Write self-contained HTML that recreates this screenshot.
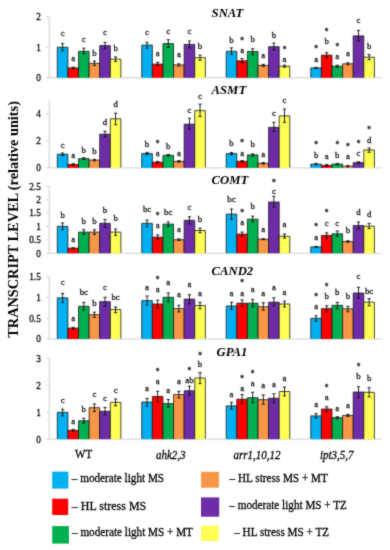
<!DOCTYPE html>
<html><head><meta charset="utf-8"><style>
html,body{margin:0;padding:0;background:#fff;}
body{width:390px;height:550px;overflow:hidden;font-family:"Liberation Serif",serif;}
svg{display:block;}
#w{width:390px;height:550px;will-change:transform;}
</style></head><body><div id="w">
<svg width="390" height="550" viewBox="0 0 390 550">
<defs><filter id="bl" x="0" y="0" width="390" height="550" filterUnits="userSpaceOnUse" color-interpolation-filters="sRGB"><feConvolveMatrix order="3" kernelMatrix="1 2 1 2 16 2 1 2 1" edgeMode="duplicate" preserveAlpha="true"/></filter></defs>
<g filter="url(#bl)">
<rect width="390" height="550" fill="#fff"/>
<g stroke="#D0D0D0" stroke-width="1" fill="none">
<line x1="49.2" y1="16.8" x2="49.2" y2="77.8"/>
<line x1="48.7" y1="77.8" x2="382" y2="77.8"/>
<line x1="46.2" y1="77.8" x2="49.2" y2="77.8"/>
<line x1="46.2" y1="47.3" x2="49.2" y2="47.3"/>
<line x1="46.2" y1="16.8" x2="49.2" y2="16.8"/>
</g>
<text transform="translate(40.80,81.10) scale(1,1.15)" font-family="Liberation Serif" font-size="9.3" fill="#111" text-anchor="end" stroke="#111" stroke-width="0.3">0</text>
<text transform="translate(40.80,50.60) scale(1,1.15)" font-family="Liberation Serif" font-size="9.3" fill="#111" text-anchor="end" stroke="#111" stroke-width="0.3">1</text>
<text transform="translate(40.80,20.10) scale(1,1.15)" font-family="Liberation Serif" font-size="9.3" fill="#111" text-anchor="end" stroke="#111" stroke-width="0.3">2</text>
<text x="211.60" y="17.40" font-family="Liberation Serif" font-size="12.7" fill="#000" font-weight="bold" font-style="italic">SNAT</text>
<rect x="57.30" y="47.20" width="10.60" height="30.60" fill="#00B0F0"/>
<path d="M57.30 77.40V47.20H67.90V77.40" fill="none" stroke="#1a1a1a" stroke-width="0.8"/>
<path d="M62.60 43.60V50.80M61.00 43.60H64.20M61.00 50.80H64.20" stroke="#111" stroke-width="0.9" fill="none"/>
<text x="62.60" y="35.80" font-family="Liberation Serif" font-size="8.8" fill="#111" text-anchor="middle" stroke="#111" stroke-width="0.28">c</text>
<rect x="67.90" y="67.90" width="10.60" height="9.90" fill="#FF0000"/>
<path d="M67.90 77.40V67.90H78.50V77.40" fill="none" stroke="#1a1a1a" stroke-width="0.8"/>
<path d="M73.20 67.10V68.70M71.60 67.10H74.80M71.60 68.70H74.80" stroke="#111" stroke-width="0.9" fill="none"/>
<text x="73.20" y="60.50" font-family="Liberation Serif" font-size="8.8" fill="#111" text-anchor="middle" stroke="#111" stroke-width="0.28">a</text>
<rect x="78.50" y="51.30" width="10.60" height="26.50" fill="#00B050"/>
<path d="M78.50 77.40V51.30H89.10V77.40" fill="none" stroke="#1a1a1a" stroke-width="0.8"/>
<path d="M83.80 48.20V53.80M82.20 48.20H85.40M82.20 53.80H85.40" stroke="#111" stroke-width="0.9" fill="none"/>
<text x="83.80" y="42.30" font-family="Liberation Serif" font-size="8.8" fill="#111" text-anchor="middle" stroke="#111" stroke-width="0.28">c</text>
<rect x="89.10" y="63.30" width="10.60" height="14.50" fill="#F79646"/>
<path d="M89.10 77.40V63.30H99.70V77.40" fill="none" stroke="#1a1a1a" stroke-width="0.8"/>
<path d="M94.40 61.00V65.40M92.80 61.00H96.00M92.80 65.40H96.00" stroke="#111" stroke-width="0.9" fill="none"/>
<text x="94.40" y="55.50" font-family="Liberation Serif" font-size="8.8" fill="#111" text-anchor="middle" stroke="#111" stroke-width="0.28">b</text>
<rect x="99.70" y="45.60" width="10.60" height="32.20" fill="#6E2CA8"/>
<path d="M99.70 77.40V45.60H110.30V77.40" fill="none" stroke="#1a1a1a" stroke-width="0.8"/>
<path d="M105.00 42.30V48.70M103.40 42.30H106.60M103.40 48.70H106.60" stroke="#111" stroke-width="0.9" fill="none"/>
<text x="105.00" y="34.60" font-family="Liberation Serif" font-size="8.8" fill="#111" text-anchor="middle" stroke="#111" stroke-width="0.28">c</text>
<rect x="110.30" y="59.20" width="10.60" height="18.60" fill="#FFFF55"/>
<path d="M110.30 77.40V59.20H120.90V77.40" fill="none" stroke="#1a1a1a" stroke-width="0.8"/>
<path d="M115.60 56.90V61.50M114.00 56.90H117.20M114.00 61.50H117.20" stroke="#111" stroke-width="0.9" fill="none"/>
<text x="115.60" y="50.60" font-family="Liberation Serif" font-size="8.8" fill="#111" text-anchor="middle" stroke="#111" stroke-width="0.28">b</text>
<rect x="141.75" y="45.10" width="10.60" height="32.70" fill="#00B0F0"/>
<path d="M141.75 77.40V45.10H152.35V77.40" fill="none" stroke="#1a1a1a" stroke-width="0.8"/>
<path d="M147.05 42.30V48.20M145.45 42.30H148.65M145.45 48.20H148.65" stroke="#111" stroke-width="0.9" fill="none"/>
<text x="147.05" y="35.30" font-family="Liberation Serif" font-size="8.8" fill="#111" text-anchor="middle" stroke="#111" stroke-width="0.28">c</text>
<rect x="152.35" y="64.10" width="10.60" height="13.70" fill="#FF0000"/>
<path d="M152.35 77.40V64.10H162.95V77.40" fill="none" stroke="#1a1a1a" stroke-width="0.8"/>
<path d="M157.65 62.30V65.60M156.05 62.30H159.25M156.05 65.60H159.25" stroke="#111" stroke-width="0.9" fill="none"/>
<text x="157.65" y="56.40" font-family="Liberation Serif" font-size="8.8" fill="#111" text-anchor="middle" stroke="#111" stroke-width="0.28">a</text>
<rect x="162.95" y="43.60" width="10.60" height="34.20" fill="#00B050"/>
<path d="M162.95 77.40V43.60H173.55V77.40" fill="none" stroke="#1a1a1a" stroke-width="0.8"/>
<path d="M168.25 39.70V47.40M166.65 39.70H169.85M166.65 47.40H169.85" stroke="#111" stroke-width="0.9" fill="none"/>
<text x="168.25" y="34.00" font-family="Liberation Serif" font-size="8.8" fill="#111" text-anchor="middle" stroke="#111" stroke-width="0.28">c</text>
<rect x="173.55" y="64.90" width="10.60" height="12.90" fill="#F79646"/>
<path d="M173.55 77.40V64.90H184.15V77.40" fill="none" stroke="#1a1a1a" stroke-width="0.8"/>
<path d="M178.85 63.80V66.00M177.25 63.80H180.45M177.25 66.00H180.45" stroke="#111" stroke-width="0.9" fill="none"/>
<text x="178.85" y="56.60" font-family="Liberation Serif" font-size="8.8" fill="#111" text-anchor="middle" stroke="#111" stroke-width="0.28">a</text>
<rect x="184.15" y="44.40" width="10.60" height="33.40" fill="#6E2CA8"/>
<path d="M184.15 77.40V44.40H194.75V77.40" fill="none" stroke="#1a1a1a" stroke-width="0.8"/>
<path d="M189.45 41.00V47.90M187.85 41.00H191.05M187.85 47.90H191.05" stroke="#111" stroke-width="0.9" fill="none"/>
<text x="189.45" y="34.00" font-family="Liberation Serif" font-size="8.8" fill="#111" text-anchor="middle" stroke="#111" stroke-width="0.28">c</text>
<rect x="194.75" y="57.70" width="10.60" height="20.10" fill="#FFFF55"/>
<path d="M194.75 77.40V57.70H205.35V77.40" fill="none" stroke="#1a1a1a" stroke-width="0.8"/>
<path d="M200.05 55.10V60.30M198.45 55.10H201.65M198.45 60.30H201.65" stroke="#111" stroke-width="0.9" fill="none"/>
<text x="200.05" y="49.10" font-family="Liberation Serif" font-size="8.8" fill="#111" text-anchor="middle" stroke="#111" stroke-width="0.28">b</text>
<rect x="226.20" y="51.30" width="10.60" height="26.50" fill="#00B0F0"/>
<path d="M226.20 77.40V51.30H236.80V77.40" fill="none" stroke="#1a1a1a" stroke-width="0.8"/>
<path d="M231.50 47.90V54.40M229.90 47.90H233.10M229.90 54.40H233.10" stroke="#111" stroke-width="0.9" fill="none"/>
<text x="231.50" y="42.70" font-family="Liberation Serif" font-size="8.8" fill="#111" text-anchor="middle" stroke="#111" stroke-width="0.28">b</text>
<rect x="236.80" y="60.80" width="10.60" height="17.00" fill="#FF0000"/>
<path d="M236.80 77.40V60.80H247.40V77.40" fill="none" stroke="#1a1a1a" stroke-width="0.8"/>
<path d="M242.10 58.50V62.80M240.50 58.50H243.70M240.50 62.80H243.70" stroke="#111" stroke-width="0.9" fill="none"/>
<text x="242.10" y="52.50" font-family="Liberation Serif" font-size="8.8" fill="#111" text-anchor="middle" stroke="#111" stroke-width="0.28">a</text>
<text x="242.10" y="42.70" font-family="Liberation Serif" font-size="7.5" fill="#333" text-anchor="middle" font-weight="bold" stroke="#333" stroke-width="0.3">*</text>
<rect x="247.40" y="51.50" width="10.60" height="26.30" fill="#00B050"/>
<path d="M247.40 77.40V51.50H258.00V77.40" fill="none" stroke="#1a1a1a" stroke-width="0.8"/>
<path d="M252.70 48.70V54.60M251.10 48.70H254.30M251.10 54.60H254.30" stroke="#111" stroke-width="0.9" fill="none"/>
<text x="252.70" y="42.10" font-family="Liberation Serif" font-size="8.8" fill="#111" text-anchor="middle" stroke="#111" stroke-width="0.28">b</text>
<rect x="258.00" y="65.40" width="10.60" height="12.40" fill="#F79646"/>
<path d="M258.00 77.40V65.40H268.60V77.40" fill="none" stroke="#1a1a1a" stroke-width="0.8"/>
<path d="M263.30 64.40V66.40M261.70 64.40H264.90M261.70 66.40H264.90" stroke="#111" stroke-width="0.9" fill="none"/>
<text x="263.30" y="57.90" font-family="Liberation Serif" font-size="8.8" fill="#111" text-anchor="middle" stroke="#111" stroke-width="0.28">a</text>
<rect x="268.60" y="46.70" width="10.60" height="31.10" fill="#6E2CA8"/>
<path d="M268.60 77.40V46.70H279.20V77.40" fill="none" stroke="#1a1a1a" stroke-width="0.8"/>
<path d="M273.90 43.10V50.00M272.30 43.10H275.50M272.30 50.00H275.50" stroke="#111" stroke-width="0.9" fill="none"/>
<text x="273.90" y="37.50" font-family="Liberation Serif" font-size="8.8" fill="#111" text-anchor="middle" stroke="#111" stroke-width="0.28">b</text>
<rect x="279.20" y="66.20" width="10.60" height="11.60" fill="#FFFF55"/>
<path d="M279.20 77.40V66.20H289.80V77.40" fill="none" stroke="#1a1a1a" stroke-width="0.8"/>
<path d="M284.50 65.20V67.20M282.90 65.20H286.10M282.90 67.20H286.10" stroke="#111" stroke-width="0.9" fill="none"/>
<text x="284.50" y="61.70" font-family="Liberation Serif" font-size="8.8" fill="#111" text-anchor="middle" stroke="#111" stroke-width="0.28">a</text>
<text x="284.50" y="51.60" font-family="Liberation Serif" font-size="7.5" fill="#333" text-anchor="middle" font-weight="bold" stroke="#333" stroke-width="0.3">*</text>
<rect x="310.80" y="67.90" width="10.60" height="9.90" fill="#00B0F0"/>
<path d="M310.80 77.40V67.90H321.40V77.40" fill="none" stroke="#1a1a1a" stroke-width="0.8"/>
<path d="M316.10 67.30V68.50M314.50 67.30H317.70M314.50 68.50H317.70" stroke="#111" stroke-width="0.9" fill="none"/>
<text x="316.10" y="61.50" font-family="Liberation Serif" font-size="8.8" fill="#111" text-anchor="middle" stroke="#111" stroke-width="0.28">a</text>
<text x="316.10" y="51.10" font-family="Liberation Serif" font-size="7.5" fill="#333" text-anchor="middle" font-weight="bold" stroke="#333" stroke-width="0.3">*</text>
<rect x="321.40" y="55.10" width="10.60" height="22.70" fill="#FF0000"/>
<path d="M321.40 77.40V55.10H332.00V77.40" fill="none" stroke="#1a1a1a" stroke-width="0.8"/>
<path d="M326.70 52.60V57.70M325.10 52.60H328.30M325.10 57.70H328.30" stroke="#111" stroke-width="0.9" fill="none"/>
<text x="326.70" y="43.90" font-family="Liberation Serif" font-size="8.8" fill="#111" text-anchor="middle" stroke="#111" stroke-width="0.28">b</text>
<text x="326.70" y="34.20" font-family="Liberation Serif" font-size="7.5" fill="#333" text-anchor="middle" font-weight="bold" stroke="#333" stroke-width="0.3">*</text>
<rect x="332.00" y="66.20" width="10.60" height="11.60" fill="#00B050"/>
<path d="M332.00 77.40V66.20H342.60V77.40" fill="none" stroke="#1a1a1a" stroke-width="0.8"/>
<path d="M337.30 65.20V67.20M335.70 65.20H338.90M335.70 67.20H338.90" stroke="#111" stroke-width="0.9" fill="none"/>
<text x="337.30" y="58.90" font-family="Liberation Serif" font-size="8.8" fill="#111" text-anchor="middle" stroke="#111" stroke-width="0.28">a</text>
<text x="337.30" y="49.10" font-family="Liberation Serif" font-size="7.5" fill="#333" text-anchor="middle" font-weight="bold" stroke="#333" stroke-width="0.3">*</text>
<rect x="342.60" y="63.80" width="10.60" height="14.00" fill="#F79646"/>
<path d="M342.60 77.40V63.80H353.20V77.40" fill="none" stroke="#1a1a1a" stroke-width="0.8"/>
<path d="M347.90 62.80V64.80M346.30 62.80H349.50M346.30 64.80H349.50" stroke="#111" stroke-width="0.9" fill="none"/>
<text x="347.90" y="56.40" font-family="Liberation Serif" font-size="8.8" fill="#111" text-anchor="middle" stroke="#111" stroke-width="0.28">a</text>
<rect x="353.20" y="35.90" width="10.60" height="41.90" fill="#6E2CA8"/>
<path d="M353.20 77.40V35.90H363.80V77.40" fill="none" stroke="#1a1a1a" stroke-width="0.8"/>
<path d="M358.50 30.30V41.00M356.90 30.30H360.10M356.90 41.00H360.10" stroke="#111" stroke-width="0.9" fill="none"/>
<text x="358.50" y="23.30" font-family="Liberation Serif" font-size="8.8" fill="#111" text-anchor="middle" stroke="#111" stroke-width="0.28">c</text>
<rect x="363.80" y="57.20" width="10.60" height="20.60" fill="#FFFF55"/>
<path d="M363.80 77.40V57.20H374.40V77.40" fill="none" stroke="#1a1a1a" stroke-width="0.8"/>
<path d="M369.10 54.60V59.70M367.50 54.60H370.70M367.50 59.70H370.70" stroke="#111" stroke-width="0.9" fill="none"/>
<text x="369.10" y="49.10" font-family="Liberation Serif" font-size="8.8" fill="#111" text-anchor="middle" stroke="#111" stroke-width="0.28">b</text>
<g stroke="#D0D0D0" stroke-width="1" fill="none">
<line x1="49.2" y1="100.5" x2="49.2" y2="167.9"/>
<line x1="48.7" y1="167.9" x2="382" y2="167.9"/>
<line x1="46.2" y1="167.9" x2="49.2" y2="167.9"/>
<line x1="46.2" y1="140.9" x2="49.2" y2="140.9"/>
<line x1="46.2" y1="113.8" x2="49.2" y2="113.8"/>
</g>
<text transform="translate(40.80,171.20) scale(1,1.15)" font-family="Liberation Serif" font-size="9.3" fill="#111" text-anchor="end" stroke="#111" stroke-width="0.3">0</text>
<text transform="translate(40.80,144.20) scale(1,1.15)" font-family="Liberation Serif" font-size="9.3" fill="#111" text-anchor="end" stroke="#111" stroke-width="0.3">2</text>
<text transform="translate(40.80,117.10) scale(1,1.15)" font-family="Liberation Serif" font-size="9.3" fill="#111" text-anchor="end" stroke="#111" stroke-width="0.3">4</text>
<text x="211.60" y="94.30" font-family="Liberation Serif" font-size="12.7" fill="#000" font-weight="bold" font-style="italic">ASMT</text>
<rect x="57.30" y="154.20" width="10.60" height="13.70" fill="#00B0F0"/>
<path d="M57.30 167.50V154.20H67.90V167.50" fill="none" stroke="#1a1a1a" stroke-width="0.8"/>
<path d="M62.60 153.00V155.40M61.00 153.00H64.20M61.00 155.40H64.20" stroke="#111" stroke-width="0.9" fill="none"/>
<text x="62.60" y="147.80" font-family="Liberation Serif" font-size="8.8" fill="#111" text-anchor="middle" stroke="#111" stroke-width="0.28">c</text>
<rect x="67.90" y="164.50" width="10.60" height="3.40" fill="#FF0000"/>
<path d="M67.90 167.50V164.50H78.50V167.50" fill="none" stroke="#1a1a1a" stroke-width="0.8"/>
<path d="M73.20 163.70V165.30M71.60 163.70H74.80M71.60 165.30H74.80" stroke="#111" stroke-width="0.9" fill="none"/>
<text x="73.20" y="158.00" font-family="Liberation Serif" font-size="8.8" fill="#111" text-anchor="middle" stroke="#111" stroke-width="0.28">a</text>
<rect x="78.50" y="158.60" width="10.60" height="9.30" fill="#00B050"/>
<path d="M78.50 167.50V158.60H89.10V167.50" fill="none" stroke="#1a1a1a" stroke-width="0.8"/>
<path d="M83.80 157.80V159.40M82.20 157.80H85.40M82.20 159.40H85.40" stroke="#111" stroke-width="0.9" fill="none"/>
<text x="83.80" y="152.80" font-family="Liberation Serif" font-size="8.8" fill="#111" text-anchor="middle" stroke="#111" stroke-width="0.28">b</text>
<rect x="89.10" y="160.10" width="10.60" height="7.80" fill="#F79646"/>
<path d="M89.10 167.50V160.10H99.70V167.50" fill="none" stroke="#1a1a1a" stroke-width="0.8"/>
<path d="M94.40 159.30V160.90M92.80 159.30H96.00M92.80 160.90H96.00" stroke="#111" stroke-width="0.9" fill="none"/>
<text x="94.40" y="154.10" font-family="Liberation Serif" font-size="8.8" fill="#111" text-anchor="middle" stroke="#111" stroke-width="0.28">b</text>
<rect x="99.70" y="134.20" width="10.60" height="33.70" fill="#6E2CA8"/>
<path d="M99.70 167.50V134.20H110.30V167.50" fill="none" stroke="#1a1a1a" stroke-width="0.8"/>
<path d="M105.00 131.20V137.00M103.40 131.20H106.60M103.40 137.00H106.60" stroke="#111" stroke-width="0.9" fill="none"/>
<text x="105.00" y="125.10" font-family="Liberation Serif" font-size="8.8" fill="#111" text-anchor="middle" stroke="#111" stroke-width="0.28">d</text>
<rect x="110.30" y="118.80" width="10.60" height="49.10" fill="#FFFF55"/>
<path d="M110.30 167.50V118.80H120.90V167.50" fill="none" stroke="#1a1a1a" stroke-width="0.8"/>
<path d="M115.60 113.20V124.70M114.00 113.20H117.20M114.00 124.70H117.20" stroke="#111" stroke-width="0.9" fill="none"/>
<text x="115.60" y="107.10" font-family="Liberation Serif" font-size="8.8" fill="#111" text-anchor="middle" stroke="#111" stroke-width="0.28">d</text>
<rect x="141.75" y="153.50" width="10.60" height="14.40" fill="#00B0F0"/>
<path d="M141.75 167.50V153.50H152.35V167.50" fill="none" stroke="#1a1a1a" stroke-width="0.8"/>
<path d="M147.05 152.40V154.60M145.45 152.40H148.65M145.45 154.60H148.65" stroke="#111" stroke-width="0.9" fill="none"/>
<text x="147.05" y="146.90" font-family="Liberation Serif" font-size="8.8" fill="#111" text-anchor="middle" stroke="#111" stroke-width="0.28">b</text>
<rect x="152.35" y="162.20" width="10.60" height="5.70" fill="#FF0000"/>
<path d="M152.35 167.50V162.20H162.95V167.50" fill="none" stroke="#1a1a1a" stroke-width="0.8"/>
<path d="M157.65 161.40V163.00M156.05 161.40H159.25M156.05 163.00H159.25" stroke="#111" stroke-width="0.9" fill="none"/>
<text x="157.65" y="155.70" font-family="Liberation Serif" font-size="8.8" fill="#111" text-anchor="middle" stroke="#111" stroke-width="0.28">a</text>
<text x="157.65" y="146.10" font-family="Liberation Serif" font-size="7.5" fill="#333" text-anchor="middle" font-weight="bold" stroke="#333" stroke-width="0.3">*</text>
<rect x="162.95" y="155.30" width="10.60" height="12.60" fill="#00B050"/>
<path d="M162.95 167.50V155.30H173.55V167.50" fill="none" stroke="#1a1a1a" stroke-width="0.8"/>
<path d="M168.25 154.50V156.10M166.65 154.50H169.85M166.65 156.10H169.85" stroke="#111" stroke-width="0.9" fill="none"/>
<text x="168.25" y="148.90" font-family="Liberation Serif" font-size="8.8" fill="#111" text-anchor="middle" stroke="#111" stroke-width="0.28">b</text>
<rect x="173.55" y="161.40" width="10.60" height="6.50" fill="#F79646"/>
<path d="M173.55 167.50V161.40H184.15V167.50" fill="none" stroke="#1a1a1a" stroke-width="0.8"/>
<path d="M178.85 160.60V162.20M177.25 160.60H180.45M177.25 162.20H180.45" stroke="#111" stroke-width="0.9" fill="none"/>
<text x="178.85" y="155.70" font-family="Liberation Serif" font-size="8.8" fill="#111" text-anchor="middle" stroke="#111" stroke-width="0.28">a</text>
<rect x="184.15" y="124.20" width="10.60" height="43.70" fill="#6E2CA8"/>
<path d="M184.15 167.50V124.20H194.75V167.50" fill="none" stroke="#1a1a1a" stroke-width="0.8"/>
<path d="M189.45 118.30V129.10M187.85 118.30H191.05M187.85 129.10H191.05" stroke="#111" stroke-width="0.9" fill="none"/>
<text x="189.45" y="113.40" font-family="Liberation Serif" font-size="8.8" fill="#111" text-anchor="middle" stroke="#111" stroke-width="0.28">c</text>
<rect x="194.75" y="110.60" width="10.60" height="57.30" fill="#FFFF55"/>
<path d="M194.75 167.50V110.60H205.35V167.50" fill="none" stroke="#1a1a1a" stroke-width="0.8"/>
<path d="M200.05 104.20V116.50M198.45 104.20H201.65M198.45 116.50H201.65" stroke="#111" stroke-width="0.9" fill="none"/>
<text x="200.05" y="98.50" font-family="Liberation Serif" font-size="8.8" fill="#111" text-anchor="middle" stroke="#111" stroke-width="0.28">c</text>
<rect x="226.20" y="153.60" width="10.60" height="14.30" fill="#00B0F0"/>
<path d="M226.20 167.50V153.60H236.80V167.50" fill="none" stroke="#1a1a1a" stroke-width="0.8"/>
<path d="M231.50 152.50V154.70M229.90 152.50H233.10M229.90 154.70H233.10" stroke="#111" stroke-width="0.9" fill="none"/>
<text x="231.50" y="146.00" font-family="Liberation Serif" font-size="8.8" fill="#111" text-anchor="middle" stroke="#111" stroke-width="0.28">b</text>
<rect x="236.80" y="161.30" width="10.60" height="6.60" fill="#FF0000"/>
<path d="M236.80 167.50V161.30H247.40V167.50" fill="none" stroke="#1a1a1a" stroke-width="0.8"/>
<path d="M242.10 160.50V162.10M240.50 160.50H243.70M240.50 162.10H243.70" stroke="#111" stroke-width="0.9" fill="none"/>
<text x="242.10" y="155.60" font-family="Liberation Serif" font-size="8.8" fill="#111" text-anchor="middle" stroke="#111" stroke-width="0.28">a</text>
<text x="242.10" y="145.20" font-family="Liberation Serif" font-size="7.5" fill="#333" text-anchor="middle" font-weight="bold" stroke="#333" stroke-width="0.3">*</text>
<rect x="247.40" y="154.90" width="10.60" height="13.00" fill="#00B050"/>
<path d="M247.40 167.50V154.90H258.00V167.50" fill="none" stroke="#1a1a1a" stroke-width="0.8"/>
<path d="M252.70 153.90V155.90M251.10 153.90H254.30M251.10 155.90H254.30" stroke="#111" stroke-width="0.9" fill="none"/>
<text x="252.70" y="147.30" font-family="Liberation Serif" font-size="8.8" fill="#111" text-anchor="middle" stroke="#111" stroke-width="0.28">b</text>
<rect x="258.00" y="163.30" width="10.60" height="4.60" fill="#F79646"/>
<path d="M258.00 167.50V163.30H268.60V167.50" fill="none" stroke="#1a1a1a" stroke-width="0.8"/>
<path d="M263.30 162.50V164.10M261.70 162.50H264.90M261.70 164.10H264.90" stroke="#111" stroke-width="0.9" fill="none"/>
<text x="263.30" y="157.10" font-family="Liberation Serif" font-size="8.8" fill="#111" text-anchor="middle" stroke="#111" stroke-width="0.28">a</text>
<rect x="268.60" y="127.40" width="10.60" height="40.50" fill="#6E2CA8"/>
<path d="M268.60 167.50V127.40H279.20V167.50" fill="none" stroke="#1a1a1a" stroke-width="0.8"/>
<path d="M273.90 122.30V131.50M272.30 122.30H275.50M272.30 131.50H275.50" stroke="#111" stroke-width="0.9" fill="none"/>
<text x="273.90" y="116.10" font-family="Liberation Serif" font-size="8.8" fill="#111" text-anchor="middle" stroke="#111" stroke-width="0.28">c</text>
<rect x="279.20" y="115.90" width="10.60" height="52.00" fill="#FFFF55"/>
<path d="M279.20 167.50V115.90H289.80V167.50" fill="none" stroke="#1a1a1a" stroke-width="0.8"/>
<path d="M284.50 109.00V122.30M282.90 109.00H286.10M282.90 122.30H286.10" stroke="#111" stroke-width="0.9" fill="none"/>
<text x="284.50" y="103.00" font-family="Liberation Serif" font-size="8.8" fill="#111" text-anchor="middle" stroke="#111" stroke-width="0.28">c</text>
<rect x="310.80" y="164.10" width="10.60" height="3.80" fill="#00B0F0"/>
<path d="M310.80 167.50V164.10H321.40V167.50" fill="none" stroke="#1a1a1a" stroke-width="0.8"/>
<path d="M316.10 163.30V164.90M314.50 163.30H317.70M314.50 164.90H317.70" stroke="#111" stroke-width="0.9" fill="none"/>
<text x="316.10" y="157.50" font-family="Liberation Serif" font-size="8.8" fill="#111" text-anchor="middle" stroke="#111" stroke-width="0.28">b</text>
<text x="316.10" y="147.00" font-family="Liberation Serif" font-size="7.5" fill="#333" text-anchor="middle" font-weight="bold" stroke="#333" stroke-width="0.3">*</text>
<rect x="321.40" y="165.40" width="10.60" height="2.50" fill="#FF0000"/>
<path d="M321.40 167.50V165.40H332.00V167.50" fill="none" stroke="#1a1a1a" stroke-width="0.8"/>
<path d="M326.70 164.60V166.20M325.10 164.60H328.30M325.10 166.20H328.30" stroke="#111" stroke-width="0.9" fill="none"/>
<text x="326.70" y="158.90" font-family="Liberation Serif" font-size="8.8" fill="#111" text-anchor="middle" stroke="#111" stroke-width="0.28">a</text>
<rect x="332.00" y="164.10" width="10.60" height="3.80" fill="#00B050"/>
<path d="M332.00 167.50V164.10H342.60V167.50" fill="none" stroke="#1a1a1a" stroke-width="0.8"/>
<path d="M337.30 163.30V164.90M335.70 163.30H338.90M335.70 164.90H338.90" stroke="#111" stroke-width="0.9" fill="none"/>
<text x="337.30" y="157.50" font-family="Liberation Serif" font-size="8.8" fill="#111" text-anchor="middle" stroke="#111" stroke-width="0.28">b</text>
<text x="337.30" y="147.00" font-family="Liberation Serif" font-size="7.5" fill="#333" text-anchor="middle" font-weight="bold" stroke="#333" stroke-width="0.3">*</text>
<rect x="342.60" y="166.20" width="10.60" height="1.70" fill="#F79646"/>
<path d="M342.60 167.50V166.20H353.20V167.50" fill="none" stroke="#1a1a1a" stroke-width="0.8"/>
<path d="M347.90 165.40V167.00M346.30 165.40H349.50M346.30 167.00H349.50" stroke="#111" stroke-width="0.9" fill="none"/>
<text x="347.90" y="158.90" font-family="Liberation Serif" font-size="8.8" fill="#111" text-anchor="middle" stroke="#111" stroke-width="0.28">a</text>
<text x="347.90" y="149.10" font-family="Liberation Serif" font-size="7.5" fill="#333" text-anchor="middle" font-weight="bold" stroke="#333" stroke-width="0.3">*</text>
<rect x="353.20" y="162.60" width="10.60" height="5.30" fill="#6E2CA8"/>
<path d="M353.20 167.50V162.60H363.80V167.50" fill="none" stroke="#1a1a1a" stroke-width="0.8"/>
<path d="M358.50 161.80V163.40M356.90 161.80H360.10M356.90 163.40H360.10" stroke="#111" stroke-width="0.9" fill="none"/>
<text x="358.50" y="155.60" font-family="Liberation Serif" font-size="8.8" fill="#111" text-anchor="middle" stroke="#111" stroke-width="0.28">c</text>
<text x="358.50" y="145.70" font-family="Liberation Serif" font-size="7.5" fill="#333" text-anchor="middle" font-weight="bold" stroke="#333" stroke-width="0.3">*</text>
<rect x="363.80" y="150.00" width="10.60" height="17.90" fill="#FFFF55"/>
<path d="M363.80 167.50V150.00H374.40V167.50" fill="none" stroke="#1a1a1a" stroke-width="0.8"/>
<path d="M369.10 148.00V152.30M367.50 148.00H370.70M367.50 152.30H370.70" stroke="#111" stroke-width="0.9" fill="none"/>
<text x="369.10" y="142.70" font-family="Liberation Serif" font-size="8.8" fill="#111" text-anchor="middle" stroke="#111" stroke-width="0.28">d</text>
<text x="369.10" y="132.20" font-family="Liberation Serif" font-size="7.5" fill="#333" text-anchor="middle" font-weight="bold" stroke="#333" stroke-width="0.3">*</text>
<g stroke="#D0D0D0" stroke-width="1" fill="none">
<line x1="49.2" y1="186.3" x2="49.2" y2="253.3"/>
<line x1="48.7" y1="253.3" x2="382" y2="253.3"/>
<line x1="46.2" y1="253.3" x2="49.2" y2="253.3"/>
<line x1="46.2" y1="239.9" x2="49.2" y2="239.9"/>
<line x1="46.2" y1="226.5" x2="49.2" y2="226.5"/>
<line x1="46.2" y1="213.1" x2="49.2" y2="213.1"/>
<line x1="46.2" y1="199.7" x2="49.2" y2="199.7"/>
<line x1="46.2" y1="186.3" x2="49.2" y2="186.3"/>
</g>
<text transform="translate(40.80,256.60) scale(1,1.15)" font-family="Liberation Serif" font-size="9.3" fill="#111" text-anchor="end" stroke="#111" stroke-width="0.3">0</text>
<text transform="translate(40.80,243.20) scale(1,1.15)" font-family="Liberation Serif" font-size="9.3" fill="#111" text-anchor="end" stroke="#111" stroke-width="0.3">0.5</text>
<text transform="translate(40.80,229.80) scale(1,1.15)" font-family="Liberation Serif" font-size="9.3" fill="#111" text-anchor="end" stroke="#111" stroke-width="0.3">1</text>
<text transform="translate(40.80,216.40) scale(1,1.15)" font-family="Liberation Serif" font-size="9.3" fill="#111" text-anchor="end" stroke="#111" stroke-width="0.3">1.5</text>
<text transform="translate(40.80,203.00) scale(1,1.15)" font-family="Liberation Serif" font-size="9.3" fill="#111" text-anchor="end" stroke="#111" stroke-width="0.3">2</text>
<text transform="translate(40.80,189.60) scale(1,1.15)" font-family="Liberation Serif" font-size="9.3" fill="#111" text-anchor="end" stroke="#111" stroke-width="0.3">2.5</text>
<text x="211.60" y="184.00" font-family="Liberation Serif" font-size="12.7" fill="#000" font-weight="bold" font-style="italic">COMT</text>
<rect x="57.30" y="226.40" width="10.60" height="26.90" fill="#00B0F0"/>
<path d="M57.30 252.90V226.40H67.90V252.90" fill="none" stroke="#1a1a1a" stroke-width="0.8"/>
<path d="M62.60 223.10V229.70M61.00 223.10H64.20M61.00 229.70H64.20" stroke="#111" stroke-width="0.9" fill="none"/>
<text x="62.60" y="217.80" font-family="Liberation Serif" font-size="8.8" fill="#111" text-anchor="middle" stroke="#111" stroke-width="0.28">b</text>
<rect x="67.90" y="248.20" width="10.60" height="5.10" fill="#FF0000"/>
<path d="M67.90 252.90V248.20H78.50V252.90" fill="none" stroke="#1a1a1a" stroke-width="0.8"/>
<path d="M73.20 247.70V248.70M71.60 247.70H74.80M71.60 248.70H74.80" stroke="#111" stroke-width="0.9" fill="none"/>
<text x="73.20" y="242.00" font-family="Liberation Serif" font-size="8.8" fill="#111" text-anchor="middle" stroke="#111" stroke-width="0.28">a</text>
<rect x="78.50" y="232.10" width="10.60" height="21.20" fill="#00B050"/>
<path d="M78.50 252.90V232.10H89.10V252.90" fill="none" stroke="#1a1a1a" stroke-width="0.8"/>
<path d="M83.80 229.70V234.40M82.20 229.70H85.40M82.20 234.40H85.40" stroke="#111" stroke-width="0.9" fill="none"/>
<text x="83.80" y="223.70" font-family="Liberation Serif" font-size="8.8" fill="#111" text-anchor="middle" stroke="#111" stroke-width="0.28">b</text>
<rect x="89.10" y="232.10" width="10.60" height="21.20" fill="#F79646"/>
<path d="M89.10 252.90V232.10H99.70V252.90" fill="none" stroke="#1a1a1a" stroke-width="0.8"/>
<path d="M94.40 229.70V234.40M92.80 229.70H96.00M92.80 234.40H96.00" stroke="#111" stroke-width="0.9" fill="none"/>
<text x="94.40" y="223.70" font-family="Liberation Serif" font-size="8.8" fill="#111" text-anchor="middle" stroke="#111" stroke-width="0.28">b</text>
<rect x="99.70" y="223.30" width="10.60" height="30.00" fill="#6E2CA8"/>
<path d="M99.70 252.90V223.30H110.30V252.90" fill="none" stroke="#1a1a1a" stroke-width="0.8"/>
<path d="M105.00 219.50V227.20M103.40 219.50H106.60M103.40 227.20H106.60" stroke="#111" stroke-width="0.9" fill="none"/>
<text x="105.00" y="212.70" font-family="Liberation Serif" font-size="8.8" fill="#111" text-anchor="middle" stroke="#111" stroke-width="0.28">b</text>
<rect x="110.30" y="232.10" width="10.60" height="21.20" fill="#FFFF55"/>
<path d="M110.30 252.90V232.10H120.90V252.90" fill="none" stroke="#1a1a1a" stroke-width="0.8"/>
<path d="M115.60 229.00V235.40M114.00 229.00H117.20M114.00 235.40H117.20" stroke="#111" stroke-width="0.9" fill="none"/>
<text x="115.60" y="221.10" font-family="Liberation Serif" font-size="8.8" fill="#111" text-anchor="middle" stroke="#111" stroke-width="0.28">b</text>
<rect x="141.75" y="223.30" width="10.60" height="30.00" fill="#00B0F0"/>
<path d="M141.75 252.90V223.30H152.35V252.90" fill="none" stroke="#1a1a1a" stroke-width="0.8"/>
<path d="M147.05 220.00V226.90M145.45 220.00H148.65M145.45 226.90H148.65" stroke="#111" stroke-width="0.9" fill="none"/>
<text x="147.05" y="212.20" font-family="Liberation Serif" font-size="8.8" fill="#111" text-anchor="middle" stroke="#111" stroke-width="0.28">bc</text>
<rect x="152.35" y="237.20" width="10.60" height="16.10" fill="#FF0000"/>
<path d="M152.35 252.90V237.20H162.95V252.90" fill="none" stroke="#1a1a1a" stroke-width="0.8"/>
<path d="M157.65 234.90V239.20M156.05 234.90H159.25M156.05 239.20H159.25" stroke="#111" stroke-width="0.9" fill="none"/>
<text x="157.65" y="228.40" font-family="Liberation Serif" font-size="8.8" fill="#111" text-anchor="middle" stroke="#111" stroke-width="0.28">a</text>
<text x="157.65" y="217.80" font-family="Liberation Serif" font-size="7.5" fill="#333" text-anchor="middle" font-weight="bold" stroke="#333" stroke-width="0.3">*</text>
<rect x="162.95" y="224.10" width="10.60" height="29.20" fill="#00B050"/>
<path d="M162.95 252.90V224.10H173.55V252.90" fill="none" stroke="#1a1a1a" stroke-width="0.8"/>
<path d="M168.25 222.00V226.40M166.65 222.00H169.85M166.65 226.40H169.85" stroke="#111" stroke-width="0.9" fill="none"/>
<text x="168.25" y="214.70" font-family="Liberation Serif" font-size="8.8" fill="#111" text-anchor="middle" stroke="#111" stroke-width="0.28">bc</text>
<rect x="173.55" y="239.70" width="10.60" height="13.60" fill="#F79646"/>
<path d="M173.55 252.90V239.70H184.15V252.90" fill="none" stroke="#1a1a1a" stroke-width="0.8"/>
<path d="M178.85 238.90V240.50M177.25 238.90H180.45M177.25 240.50H180.45" stroke="#111" stroke-width="0.9" fill="none"/>
<text x="178.85" y="231.50" font-family="Liberation Serif" font-size="8.8" fill="#111" text-anchor="middle" stroke="#111" stroke-width="0.28">a</text>
<rect x="184.15" y="220.30" width="10.60" height="33.00" fill="#6E2CA8"/>
<path d="M184.15 252.90V220.30H194.75V252.90" fill="none" stroke="#1a1a1a" stroke-width="0.8"/>
<path d="M189.45 216.70V223.80M187.85 216.70H191.05M187.85 223.80H191.05" stroke="#111" stroke-width="0.9" fill="none"/>
<text x="189.45" y="209.70" font-family="Liberation Serif" font-size="8.8" fill="#111" text-anchor="middle" stroke="#111" stroke-width="0.28">c</text>
<rect x="194.75" y="230.50" width="10.60" height="22.80" fill="#FFFF55"/>
<path d="M194.75 252.90V230.50H205.35V252.90" fill="none" stroke="#1a1a1a" stroke-width="0.8"/>
<path d="M200.05 228.20V232.80M198.45 228.20H201.65M198.45 232.80H201.65" stroke="#111" stroke-width="0.9" fill="none"/>
<text x="200.05" y="222.40" font-family="Liberation Serif" font-size="8.8" fill="#111" text-anchor="middle" stroke="#111" stroke-width="0.28">b</text>
<rect x="226.20" y="214.10" width="10.60" height="39.20" fill="#00B0F0"/>
<path d="M226.20 252.90V214.10H236.80V252.90" fill="none" stroke="#1a1a1a" stroke-width="0.8"/>
<path d="M231.50 209.00V219.20M229.90 209.00H233.10M229.90 219.20H233.10" stroke="#111" stroke-width="0.9" fill="none"/>
<text x="231.50" y="201.90" font-family="Liberation Serif" font-size="8.8" fill="#111" text-anchor="middle" stroke="#111" stroke-width="0.28">bc</text>
<rect x="236.80" y="234.10" width="10.60" height="19.20" fill="#FF0000"/>
<path d="M236.80 252.90V234.10H247.40V252.90" fill="none" stroke="#1a1a1a" stroke-width="0.8"/>
<path d="M242.10 232.00V236.20M240.50 232.00H243.70M240.50 236.20H243.70" stroke="#111" stroke-width="0.9" fill="none"/>
<text x="242.10" y="225.30" font-family="Liberation Serif" font-size="8.8" fill="#111" text-anchor="middle" stroke="#111" stroke-width="0.28">a</text>
<text x="242.10" y="214.50" font-family="Liberation Serif" font-size="7.5" fill="#333" text-anchor="middle" font-weight="bold" stroke="#333" stroke-width="0.3">*</text>
<rect x="247.40" y="219.20" width="10.60" height="34.10" fill="#00B050"/>
<path d="M247.40 252.90V219.20H258.00V252.90" fill="none" stroke="#1a1a1a" stroke-width="0.8"/>
<path d="M252.70 216.20V222.00M251.10 216.20H254.30M251.10 222.00H254.30" stroke="#111" stroke-width="0.9" fill="none"/>
<text x="252.70" y="208.80" font-family="Liberation Serif" font-size="8.8" fill="#111" text-anchor="middle" stroke="#111" stroke-width="0.28">b</text>
<rect x="258.00" y="239.20" width="10.60" height="14.10" fill="#F79646"/>
<path d="M258.00 252.90V239.20H268.60V252.90" fill="none" stroke="#1a1a1a" stroke-width="0.8"/>
<path d="M263.30 238.70V239.70M261.70 238.70H264.90M261.70 239.70H264.90" stroke="#111" stroke-width="0.9" fill="none"/>
<text x="263.30" y="231.70" font-family="Liberation Serif" font-size="8.8" fill="#111" text-anchor="middle" stroke="#111" stroke-width="0.28">a</text>
<rect x="268.60" y="202.00" width="10.60" height="51.30" fill="#6E2CA8"/>
<path d="M268.60 252.90V202.00H279.20V252.90" fill="none" stroke="#1a1a1a" stroke-width="0.8"/>
<path d="M273.90 196.40V207.20M272.30 196.40H275.50M272.30 207.20H275.50" stroke="#111" stroke-width="0.9" fill="none"/>
<text x="273.90" y="194.30" font-family="Liberation Serif" font-size="8.8" fill="#111" text-anchor="middle" stroke="#111" stroke-width="0.28">c</text>
<text x="273.90" y="184.50" font-family="Liberation Serif" font-size="7.5" fill="#333" text-anchor="middle" font-weight="bold" stroke="#333" stroke-width="0.3">*</text>
<rect x="279.20" y="236.20" width="10.60" height="17.10" fill="#FFFF55"/>
<path d="M279.20 252.90V236.20H289.80V252.90" fill="none" stroke="#1a1a1a" stroke-width="0.8"/>
<path d="M284.50 234.10V238.00M282.90 234.10H286.10M282.90 238.00H286.10" stroke="#111" stroke-width="0.9" fill="none"/>
<text x="284.50" y="227.10" font-family="Liberation Serif" font-size="8.8" fill="#111" text-anchor="middle" stroke="#111" stroke-width="0.28">a</text>
<rect x="310.80" y="246.90" width="10.60" height="6.40" fill="#00B0F0"/>
<path d="M310.80 252.90V246.90H321.40V252.90" fill="none" stroke="#1a1a1a" stroke-width="0.8"/>
<path d="M316.10 246.40V247.40M314.50 246.40H317.70M314.50 247.40H317.70" stroke="#111" stroke-width="0.9" fill="none"/>
<text x="316.10" y="240.00" font-family="Liberation Serif" font-size="8.8" fill="#111" text-anchor="middle" stroke="#111" stroke-width="0.28">a</text>
<text x="316.10" y="229.30" font-family="Liberation Serif" font-size="7.5" fill="#333" text-anchor="middle" font-weight="bold" stroke="#333" stroke-width="0.3">*</text>
<rect x="321.40" y="235.40" width="10.60" height="17.90" fill="#FF0000"/>
<path d="M321.40 252.90V235.40H332.00V252.90" fill="none" stroke="#1a1a1a" stroke-width="0.8"/>
<path d="M326.70 232.80V238.00M325.10 232.80H328.30M325.10 238.00H328.30" stroke="#111" stroke-width="0.9" fill="none"/>
<text x="326.70" y="225.80" font-family="Liberation Serif" font-size="8.8" fill="#111" text-anchor="middle" stroke="#111" stroke-width="0.28">c</text>
<text x="326.70" y="214.70" font-family="Liberation Serif" font-size="7.5" fill="#333" text-anchor="middle" font-weight="bold" stroke="#333" stroke-width="0.3">*</text>
<rect x="332.00" y="233.80" width="10.60" height="19.50" fill="#00B050"/>
<path d="M332.00 252.90V233.80H342.60V252.90" fill="none" stroke="#1a1a1a" stroke-width="0.8"/>
<path d="M337.30 231.00V236.20M335.70 231.00H338.90M335.70 236.20H338.90" stroke="#111" stroke-width="0.9" fill="none"/>
<text x="337.30" y="225.80" font-family="Liberation Serif" font-size="8.8" fill="#111" text-anchor="middle" stroke="#111" stroke-width="0.28">c</text>
<rect x="342.60" y="241.50" width="10.60" height="11.80" fill="#F79646"/>
<path d="M342.60 252.90V241.50H353.20V252.90" fill="none" stroke="#1a1a1a" stroke-width="0.8"/>
<path d="M347.90 240.70V242.30M346.30 240.70H349.50M346.30 242.30H349.50" stroke="#111" stroke-width="0.9" fill="none"/>
<text x="347.90" y="233.20" font-family="Liberation Serif" font-size="8.8" fill="#111" text-anchor="middle" stroke="#111" stroke-width="0.28">b</text>
<rect x="353.20" y="225.60" width="10.60" height="27.70" fill="#6E2CA8"/>
<path d="M353.20 252.90V225.60H363.80V252.90" fill="none" stroke="#1a1a1a" stroke-width="0.8"/>
<path d="M358.50 222.00V229.00M356.90 222.00H360.10M356.90 229.00H360.10" stroke="#111" stroke-width="0.9" fill="none"/>
<text x="358.50" y="214.70" font-family="Liberation Serif" font-size="8.8" fill="#111" text-anchor="middle" stroke="#111" stroke-width="0.28">d</text>
<rect x="363.80" y="226.20" width="10.60" height="27.10" fill="#FFFF55"/>
<path d="M363.80 252.90V226.20H374.40V252.90" fill="none" stroke="#1a1a1a" stroke-width="0.8"/>
<path d="M369.10 223.30V228.50M367.50 223.30H370.70M367.50 228.50H370.70" stroke="#111" stroke-width="0.9" fill="none"/>
<text x="369.10" y="217.30" font-family="Liberation Serif" font-size="8.8" fill="#111" text-anchor="middle" stroke="#111" stroke-width="0.28">d</text>
<g stroke="#D0D0D0" stroke-width="1" fill="none">
<line x1="49.2" y1="276.9" x2="49.2" y2="339.0"/>
<line x1="48.7" y1="339.0" x2="382" y2="339.0"/>
<line x1="46.2" y1="339.0" x2="49.2" y2="339.0"/>
<line x1="46.2" y1="318.3" x2="49.2" y2="318.3"/>
<line x1="46.2" y1="297.6" x2="49.2" y2="297.6"/>
<line x1="46.2" y1="276.9" x2="49.2" y2="276.9"/>
</g>
<text transform="translate(40.80,342.30) scale(1,1.15)" font-family="Liberation Serif" font-size="9.3" fill="#111" text-anchor="end" stroke="#111" stroke-width="0.3">0</text>
<text transform="translate(40.80,321.60) scale(1,1.15)" font-family="Liberation Serif" font-size="9.3" fill="#111" text-anchor="end" stroke="#111" stroke-width="0.3">0.5</text>
<text transform="translate(40.80,300.90) scale(1,1.15)" font-family="Liberation Serif" font-size="9.3" fill="#111" text-anchor="end" stroke="#111" stroke-width="0.3">1</text>
<text transform="translate(40.80,280.20) scale(1,1.15)" font-family="Liberation Serif" font-size="9.3" fill="#111" text-anchor="end" stroke="#111" stroke-width="0.3">1.5</text>
<text x="211.60" y="274.50" font-family="Liberation Serif" font-size="12.7" fill="#000" font-weight="bold" font-style="italic">CAND2</text>
<rect x="57.30" y="297.80" width="10.60" height="41.20" fill="#00B0F0"/>
<path d="M57.30 338.60V297.80H67.90V338.60" fill="none" stroke="#1a1a1a" stroke-width="0.8"/>
<path d="M62.60 293.50V302.40M61.00 293.50H64.20M61.00 302.40H64.20" stroke="#111" stroke-width="0.9" fill="none"/>
<text x="62.60" y="284.70" font-family="Liberation Serif" font-size="8.8" fill="#111" text-anchor="middle" stroke="#111" stroke-width="0.28">c</text>
<rect x="67.90" y="328.10" width="10.60" height="10.90" fill="#FF0000"/>
<path d="M67.90 338.60V328.10H78.50V338.60" fill="none" stroke="#1a1a1a" stroke-width="0.8"/>
<path d="M73.20 327.30V328.90M71.60 327.30H74.80M71.60 328.90H74.80" stroke="#111" stroke-width="0.9" fill="none"/>
<text x="73.20" y="320.60" font-family="Liberation Serif" font-size="8.8" fill="#111" text-anchor="middle" stroke="#111" stroke-width="0.28">a</text>
<rect x="78.50" y="306.30" width="10.60" height="32.70" fill="#00B050"/>
<path d="M78.50 338.60V306.30H89.10V338.60" fill="none" stroke="#1a1a1a" stroke-width="0.8"/>
<path d="M83.80 302.40V310.10M82.20 302.40H85.40M82.20 310.10H85.40" stroke="#111" stroke-width="0.9" fill="none"/>
<text x="83.80" y="294.90" font-family="Liberation Serif" font-size="8.8" fill="#111" text-anchor="middle" stroke="#111" stroke-width="0.28">bc</text>
<rect x="89.10" y="314.70" width="10.60" height="24.30" fill="#F79646"/>
<path d="M89.10 338.60V314.70H99.70V338.60" fill="none" stroke="#1a1a1a" stroke-width="0.8"/>
<path d="M94.40 312.20V317.30M92.80 312.20H96.00M92.80 317.30H96.00" stroke="#111" stroke-width="0.9" fill="none"/>
<text x="94.40" y="305.60" font-family="Liberation Serif" font-size="8.8" fill="#111" text-anchor="middle" stroke="#111" stroke-width="0.28">b</text>
<rect x="99.70" y="301.70" width="10.60" height="37.30" fill="#6E2CA8"/>
<path d="M99.70 338.60V301.70H110.30V338.60" fill="none" stroke="#1a1a1a" stroke-width="0.8"/>
<path d="M105.00 297.30V306.30M103.40 297.30H106.60M103.40 306.30H106.60" stroke="#111" stroke-width="0.9" fill="none"/>
<text x="105.00" y="289.80" font-family="Liberation Serif" font-size="8.8" fill="#111" text-anchor="middle" stroke="#111" stroke-width="0.28">c</text>
<rect x="110.30" y="309.60" width="10.60" height="29.40" fill="#FFFF55"/>
<path d="M110.30 338.60V309.60H120.90V338.60" fill="none" stroke="#1a1a1a" stroke-width="0.8"/>
<path d="M115.60 307.00V312.70M114.00 307.00H117.20M114.00 312.70H117.20" stroke="#111" stroke-width="0.9" fill="none"/>
<text x="115.60" y="300.00" font-family="Liberation Serif" font-size="8.8" fill="#111" text-anchor="middle" stroke="#111" stroke-width="0.28">bc</text>
<rect x="141.75" y="300.60" width="10.60" height="38.40" fill="#00B0F0"/>
<path d="M141.75 338.60V300.60H152.35V338.60" fill="none" stroke="#1a1a1a" stroke-width="0.8"/>
<path d="M147.05 296.00V305.00M145.45 296.00H148.65M145.45 305.00H148.65" stroke="#111" stroke-width="0.9" fill="none"/>
<text x="147.05" y="289.60" font-family="Liberation Serif" font-size="8.8" fill="#111" text-anchor="middle" stroke="#111" stroke-width="0.28">a</text>
<rect x="152.35" y="304.00" width="10.60" height="35.00" fill="#FF0000"/>
<path d="M152.35 338.60V304.00H162.95V338.60" fill="none" stroke="#1a1a1a" stroke-width="0.8"/>
<path d="M157.65 300.10V307.80M156.05 300.10H159.25M156.05 307.80H159.25" stroke="#111" stroke-width="0.9" fill="none"/>
<text x="157.65" y="292.40" font-family="Liberation Serif" font-size="8.8" fill="#111" text-anchor="middle" stroke="#111" stroke-width="0.28">a</text>
<text x="157.65" y="282.30" font-family="Liberation Serif" font-size="7.5" fill="#333" text-anchor="middle" font-weight="bold" stroke="#333" stroke-width="0.3">*</text>
<rect x="162.95" y="297.30" width="10.60" height="41.70" fill="#00B050"/>
<path d="M162.95 338.60V297.30H173.55V338.60" fill="none" stroke="#1a1a1a" stroke-width="0.8"/>
<path d="M168.25 293.00V301.70M166.65 293.00H169.85M166.65 301.70H169.85" stroke="#111" stroke-width="0.9" fill="none"/>
<text x="168.25" y="285.20" font-family="Liberation Serif" font-size="8.8" fill="#111" text-anchor="middle" stroke="#111" stroke-width="0.28">a</text>
<rect x="173.55" y="308.60" width="10.60" height="30.40" fill="#F79646"/>
<path d="M173.55 338.60V308.60H184.15V338.60" fill="none" stroke="#1a1a1a" stroke-width="0.8"/>
<path d="M178.85 305.30V311.90M177.25 305.30H180.45M177.25 311.90H180.45" stroke="#111" stroke-width="0.9" fill="none"/>
<text x="178.85" y="296.70" font-family="Liberation Serif" font-size="8.8" fill="#111" text-anchor="middle" stroke="#111" stroke-width="0.28">a</text>
<rect x="184.15" y="299.10" width="10.60" height="39.90" fill="#6E2CA8"/>
<path d="M184.15 338.60V299.10H194.75V338.60" fill="none" stroke="#1a1a1a" stroke-width="0.8"/>
<path d="M189.45 294.70V303.70M187.85 294.70H191.05M187.85 303.70H191.05" stroke="#111" stroke-width="0.9" fill="none"/>
<text x="189.45" y="287.00" font-family="Liberation Serif" font-size="8.8" fill="#111" text-anchor="middle" stroke="#111" stroke-width="0.28">a</text>
<rect x="194.75" y="305.50" width="10.60" height="33.50" fill="#FFFF55"/>
<path d="M194.75 338.60V305.50H205.35V338.60" fill="none" stroke="#1a1a1a" stroke-width="0.8"/>
<path d="M200.05 302.40V308.80M198.45 302.40H201.65M198.45 308.80H201.65" stroke="#111" stroke-width="0.9" fill="none"/>
<text x="200.05" y="296.00" font-family="Liberation Serif" font-size="8.8" fill="#111" text-anchor="middle" stroke="#111" stroke-width="0.28">a</text>
<rect x="226.20" y="306.00" width="10.60" height="33.00" fill="#00B0F0"/>
<path d="M226.20 338.60V306.00H236.80V338.60" fill="none" stroke="#1a1a1a" stroke-width="0.8"/>
<path d="M231.50 302.40V309.40M229.90 302.40H233.10M229.90 309.40H233.10" stroke="#111" stroke-width="0.9" fill="none"/>
<text x="231.50" y="295.50" font-family="Liberation Serif" font-size="8.8" fill="#111" text-anchor="middle" stroke="#111" stroke-width="0.28">a</text>
<rect x="236.80" y="303.20" width="10.60" height="35.80" fill="#FF0000"/>
<path d="M236.80 338.60V303.20H247.40V338.60" fill="none" stroke="#1a1a1a" stroke-width="0.8"/>
<path d="M242.10 299.90V306.30M240.50 299.90H243.70M240.50 306.30H243.70" stroke="#111" stroke-width="0.9" fill="none"/>
<text x="242.10" y="295.50" font-family="Liberation Serif" font-size="8.8" fill="#111" text-anchor="middle" stroke="#111" stroke-width="0.28">a</text>
<text x="242.10" y="285.40" font-family="Liberation Serif" font-size="7.5" fill="#333" text-anchor="middle" font-weight="bold" stroke="#333" stroke-width="0.3">*</text>
<rect x="247.40" y="303.20" width="10.60" height="35.80" fill="#00B050"/>
<path d="M247.40 338.60V303.20H258.00V338.60" fill="none" stroke="#1a1a1a" stroke-width="0.8"/>
<path d="M252.70 299.40V306.80M251.10 299.40H254.30M251.10 306.80H254.30" stroke="#111" stroke-width="0.9" fill="none"/>
<text x="252.70" y="292.40" font-family="Liberation Serif" font-size="8.8" fill="#111" text-anchor="middle" stroke="#111" stroke-width="0.28">a</text>
<rect x="258.00" y="306.80" width="10.60" height="32.20" fill="#F79646"/>
<path d="M258.00 338.60V306.80H268.60V338.60" fill="none" stroke="#1a1a1a" stroke-width="0.8"/>
<path d="M263.30 302.70V310.10M261.70 302.70H264.90M261.70 310.10H264.90" stroke="#111" stroke-width="0.9" fill="none"/>
<text x="263.30" y="295.50" font-family="Liberation Serif" font-size="8.8" fill="#111" text-anchor="middle" stroke="#111" stroke-width="0.28">a</text>
<rect x="268.60" y="302.20" width="10.60" height="36.80" fill="#6E2CA8"/>
<path d="M268.60 338.60V302.20H279.20V338.60" fill="none" stroke="#1a1a1a" stroke-width="0.8"/>
<path d="M273.90 297.80V305.80M272.30 297.80H275.50M272.30 305.80H275.50" stroke="#111" stroke-width="0.9" fill="none"/>
<text x="273.90" y="290.30" font-family="Liberation Serif" font-size="8.8" fill="#111" text-anchor="middle" stroke="#111" stroke-width="0.28">a</text>
<rect x="279.20" y="304.00" width="10.60" height="35.00" fill="#FFFF55"/>
<path d="M279.20 338.60V304.00H289.80V338.60" fill="none" stroke="#1a1a1a" stroke-width="0.8"/>
<path d="M284.50 301.20V307.00M282.90 301.20H286.10M282.90 307.00H286.10" stroke="#111" stroke-width="0.9" fill="none"/>
<text x="284.50" y="294.70" font-family="Liberation Serif" font-size="8.8" fill="#111" text-anchor="middle" stroke="#111" stroke-width="0.28">a</text>
<rect x="310.80" y="318.30" width="10.60" height="20.70" fill="#00B0F0"/>
<path d="M310.80 338.60V318.30H321.40V338.60" fill="none" stroke="#1a1a1a" stroke-width="0.8"/>
<path d="M316.10 315.80V321.20M314.50 315.80H317.70M314.50 321.20H317.70" stroke="#111" stroke-width="0.9" fill="none"/>
<text x="316.10" y="309.00" font-family="Liberation Serif" font-size="8.8" fill="#111" text-anchor="middle" stroke="#111" stroke-width="0.28">a</text>
<text x="316.10" y="298.90" font-family="Liberation Serif" font-size="7.5" fill="#333" text-anchor="middle" font-weight="bold" stroke="#333" stroke-width="0.3">*</text>
<rect x="321.40" y="308.60" width="10.60" height="30.40" fill="#FF0000"/>
<path d="M321.40 338.60V308.60H332.00V338.60" fill="none" stroke="#1a1a1a" stroke-width="0.8"/>
<path d="M326.70 305.80V311.90M325.10 305.80H328.30M325.10 311.90H328.30" stroke="#111" stroke-width="0.9" fill="none"/>
<text x="326.70" y="299.20" font-family="Liberation Serif" font-size="8.8" fill="#111" text-anchor="middle" stroke="#111" stroke-width="0.28">b</text>
<text x="326.70" y="289.20" font-family="Liberation Serif" font-size="7.5" fill="#333" text-anchor="middle" font-weight="bold" stroke="#333" stroke-width="0.3">*</text>
<rect x="332.00" y="305.30" width="10.60" height="33.70" fill="#00B050"/>
<path d="M332.00 338.60V305.30H342.60V338.60" fill="none" stroke="#1a1a1a" stroke-width="0.8"/>
<path d="M337.30 302.40V308.80M335.70 302.40H338.90M335.70 308.80H338.90" stroke="#111" stroke-width="0.9" fill="none"/>
<text x="337.30" y="295.10" font-family="Liberation Serif" font-size="8.8" fill="#111" text-anchor="middle" stroke="#111" stroke-width="0.28">b</text>
<rect x="342.60" y="308.80" width="10.60" height="30.20" fill="#F79646"/>
<path d="M342.60 338.60V308.80H353.20V338.60" fill="none" stroke="#1a1a1a" stroke-width="0.8"/>
<path d="M347.90 306.30V311.70M346.30 306.30H349.50M346.30 311.70H349.50" stroke="#111" stroke-width="0.9" fill="none"/>
<text x="347.90" y="299.20" font-family="Liberation Serif" font-size="8.8" fill="#111" text-anchor="middle" stroke="#111" stroke-width="0.28">b</text>
<rect x="353.20" y="293.00" width="10.60" height="46.00" fill="#6E2CA8"/>
<path d="M353.20 338.60V293.00H363.80V338.60" fill="none" stroke="#1a1a1a" stroke-width="0.8"/>
<path d="M358.50 287.30V298.10M356.90 287.30H360.10M356.90 298.10H360.10" stroke="#111" stroke-width="0.9" fill="none"/>
<text x="358.50" y="278.80" font-family="Liberation Serif" font-size="8.8" fill="#111" text-anchor="middle" stroke="#111" stroke-width="0.28">c</text>
<rect x="363.80" y="302.20" width="10.60" height="36.80" fill="#FFFF55"/>
<path d="M363.80 338.60V302.20H374.40V338.60" fill="none" stroke="#1a1a1a" stroke-width="0.8"/>
<path d="M369.10 298.60V305.80M367.50 298.60H370.70M367.50 305.80H370.70" stroke="#111" stroke-width="0.9" fill="none"/>
<text x="369.10" y="294.10" font-family="Liberation Serif" font-size="8.8" fill="#111" text-anchor="middle" stroke="#111" stroke-width="0.28">bc</text>
<g stroke="#D0D0D0" stroke-width="1" fill="none">
<line x1="49.2" y1="358.2" x2="49.2" y2="439.2"/>
<line x1="48.7" y1="439.2" x2="382" y2="439.2"/>
<line x1="46.2" y1="439.2" x2="49.2" y2="439.2"/>
<line x1="46.2" y1="412.2" x2="49.2" y2="412.2"/>
<line x1="46.2" y1="385.2" x2="49.2" y2="385.2"/>
<line x1="46.2" y1="358.2" x2="49.2" y2="358.2"/>
</g>
<text transform="translate(40.80,442.50) scale(1,1.15)" font-family="Liberation Serif" font-size="9.3" fill="#111" text-anchor="end" stroke="#111" stroke-width="0.3">0</text>
<text transform="translate(40.80,415.50) scale(1,1.15)" font-family="Liberation Serif" font-size="9.3" fill="#111" text-anchor="end" stroke="#111" stroke-width="0.3">1</text>
<text transform="translate(40.80,388.50) scale(1,1.15)" font-family="Liberation Serif" font-size="9.3" fill="#111" text-anchor="end" stroke="#111" stroke-width="0.3">2</text>
<text transform="translate(40.80,361.50) scale(1,1.15)" font-family="Liberation Serif" font-size="9.3" fill="#111" text-anchor="end" stroke="#111" stroke-width="0.3">3</text>
<text x="216.60" y="356.10" font-family="Liberation Serif" font-size="12.7" fill="#000" font-weight="bold" font-style="italic">GPA1</text>
<rect x="57.30" y="412.30" width="10.60" height="26.90" fill="#00B0F0"/>
<path d="M57.30 438.80V412.30H67.90V438.80" fill="none" stroke="#1a1a1a" stroke-width="0.8"/>
<path d="M62.60 409.20V415.90M61.00 409.20H64.20M61.00 415.90H64.20" stroke="#111" stroke-width="0.9" fill="none"/>
<text x="62.60" y="402.80" font-family="Liberation Serif" font-size="8.8" fill="#111" text-anchor="middle" stroke="#111" stroke-width="0.28">c</text>
<rect x="67.90" y="430.30" width="10.60" height="8.90" fill="#FF0000"/>
<path d="M67.90 438.80V430.30H78.50V438.80" fill="none" stroke="#1a1a1a" stroke-width="0.8"/>
<path d="M73.20 429.30V431.30M71.60 429.30H74.80M71.60 431.30H74.80" stroke="#111" stroke-width="0.9" fill="none"/>
<text x="73.20" y="423.50" font-family="Liberation Serif" font-size="8.8" fill="#111" text-anchor="middle" stroke="#111" stroke-width="0.28">a</text>
<rect x="78.50" y="420.80" width="10.60" height="18.40" fill="#00B050"/>
<path d="M78.50 438.80V420.80H89.10V438.80" fill="none" stroke="#1a1a1a" stroke-width="0.8"/>
<path d="M83.80 418.20V423.30M82.20 418.20H85.40M82.20 423.30H85.40" stroke="#111" stroke-width="0.9" fill="none"/>
<text x="83.80" y="412.10" font-family="Liberation Serif" font-size="8.8" fill="#111" text-anchor="middle" stroke="#111" stroke-width="0.28">b</text>
<rect x="89.10" y="407.70" width="10.60" height="31.50" fill="#F79646"/>
<path d="M89.10 438.80V407.70H99.70V438.80" fill="none" stroke="#1a1a1a" stroke-width="0.8"/>
<path d="M94.40 404.00V411.50M92.80 404.00H96.00M92.80 411.50H96.00" stroke="#111" stroke-width="0.9" fill="none"/>
<text x="94.40" y="396.60" font-family="Liberation Serif" font-size="8.8" fill="#111" text-anchor="middle" stroke="#111" stroke-width="0.28">c</text>
<rect x="99.70" y="411.30" width="10.60" height="27.90" fill="#6E2CA8"/>
<path d="M99.70 438.80V411.30H110.30V438.80" fill="none" stroke="#1a1a1a" stroke-width="0.8"/>
<path d="M105.00 407.40V415.00M103.40 407.40H106.60M103.40 415.00H106.60" stroke="#111" stroke-width="0.9" fill="none"/>
<text x="105.00" y="401.00" font-family="Liberation Serif" font-size="8.8" fill="#111" text-anchor="middle" stroke="#111" stroke-width="0.28">c</text>
<rect x="110.30" y="402.30" width="10.60" height="36.90" fill="#FFFF55"/>
<path d="M110.30 438.80V402.30H120.90V438.80" fill="none" stroke="#1a1a1a" stroke-width="0.8"/>
<path d="M115.60 399.00V405.80M114.00 399.00H117.20M114.00 405.80H117.20" stroke="#111" stroke-width="0.9" fill="none"/>
<text x="115.60" y="392.50" font-family="Liberation Serif" font-size="8.8" fill="#111" text-anchor="middle" stroke="#111" stroke-width="0.28">c</text>
<rect x="141.75" y="402.00" width="10.60" height="37.20" fill="#00B0F0"/>
<path d="M141.75 438.80V402.00H152.35V438.80" fill="none" stroke="#1a1a1a" stroke-width="0.8"/>
<path d="M147.05 398.50V406.20M145.45 398.50H148.65M145.45 406.20H148.65" stroke="#111" stroke-width="0.9" fill="none"/>
<text x="147.05" y="391.20" font-family="Liberation Serif" font-size="8.8" fill="#111" text-anchor="middle" stroke="#111" stroke-width="0.28">a</text>
<rect x="152.35" y="396.40" width="10.60" height="42.80" fill="#FF0000"/>
<path d="M152.35 438.80V396.40H162.95V438.80" fill="none" stroke="#1a1a1a" stroke-width="0.8"/>
<path d="M157.65 391.30V402.00M156.05 391.30H159.25M156.05 402.00H159.25" stroke="#111" stroke-width="0.9" fill="none"/>
<text x="157.65" y="383.50" font-family="Liberation Serif" font-size="8.8" fill="#111" text-anchor="middle" stroke="#111" stroke-width="0.28">a</text>
<text x="157.65" y="374.20" font-family="Liberation Serif" font-size="7.5" fill="#333" text-anchor="middle" font-weight="bold" stroke="#333" stroke-width="0.3">*</text>
<rect x="162.95" y="403.60" width="10.60" height="35.60" fill="#00B050"/>
<path d="M162.95 438.80V403.60H173.55V438.80" fill="none" stroke="#1a1a1a" stroke-width="0.8"/>
<path d="M168.25 399.50V407.20M166.65 399.50H169.85M166.65 407.20H169.85" stroke="#111" stroke-width="0.9" fill="none"/>
<text x="168.25" y="393.30" font-family="Liberation Serif" font-size="8.8" fill="#111" text-anchor="middle" stroke="#111" stroke-width="0.28">a</text>
<rect x="173.55" y="394.60" width="10.60" height="44.60" fill="#F79646"/>
<path d="M173.55 438.80V394.60H184.15V438.80" fill="none" stroke="#1a1a1a" stroke-width="0.8"/>
<path d="M178.85 391.30V398.00M177.25 391.30H180.45M177.25 398.00H180.45" stroke="#111" stroke-width="0.9" fill="none"/>
<text x="178.85" y="383.50" font-family="Liberation Serif" font-size="8.8" fill="#111" text-anchor="middle" stroke="#111" stroke-width="0.28">a</text>
<rect x="184.15" y="390.80" width="10.60" height="48.40" fill="#6E2CA8"/>
<path d="M184.15 438.80V390.80H194.75V438.80" fill="none" stroke="#1a1a1a" stroke-width="0.8"/>
<path d="M189.45 386.20V395.10M187.85 386.20H191.05M187.85 395.10H191.05" stroke="#111" stroke-width="0.9" fill="none"/>
<text x="189.45" y="382.90" font-family="Liberation Serif" font-size="8.8" fill="#111" text-anchor="middle" stroke="#111" stroke-width="0.28">ab</text>
<text x="189.45" y="372.90" font-family="Liberation Serif" font-size="7.5" fill="#333" text-anchor="middle" font-weight="bold" stroke="#333" stroke-width="0.3">*</text>
<rect x="194.75" y="378.00" width="10.60" height="61.20" fill="#FFFF55"/>
<path d="M194.75 438.80V378.00H205.35V438.80" fill="none" stroke="#1a1a1a" stroke-width="0.8"/>
<path d="M200.05 372.60V383.60M198.45 372.60H201.65M198.45 383.60H201.65" stroke="#111" stroke-width="0.9" fill="none"/>
<text x="200.05" y="367.30" font-family="Liberation Serif" font-size="8.8" fill="#111" text-anchor="middle" stroke="#111" stroke-width="0.28">b</text>
<text x="200.05" y="357.50" font-family="Liberation Serif" font-size="7.5" fill="#333" text-anchor="middle" font-weight="bold" stroke="#333" stroke-width="0.3">*</text>
<rect x="226.20" y="405.90" width="10.60" height="33.30" fill="#00B0F0"/>
<path d="M226.20 438.80V405.90H236.80V438.80" fill="none" stroke="#1a1a1a" stroke-width="0.8"/>
<path d="M231.50 402.30V409.20M229.90 402.30H233.10M229.90 409.20H233.10" stroke="#111" stroke-width="0.9" fill="none"/>
<text x="231.50" y="396.60" font-family="Liberation Serif" font-size="8.8" fill="#111" text-anchor="middle" stroke="#111" stroke-width="0.28">a</text>
<rect x="236.80" y="399.20" width="10.60" height="40.00" fill="#FF0000"/>
<path d="M236.80 438.80V399.20H247.40V438.80" fill="none" stroke="#1a1a1a" stroke-width="0.8"/>
<path d="M242.10 394.60V403.60M240.50 394.60H243.70M240.50 403.60H243.70" stroke="#111" stroke-width="0.9" fill="none"/>
<text x="242.10" y="390.70" font-family="Liberation Serif" font-size="8.8" fill="#111" text-anchor="middle" stroke="#111" stroke-width="0.28">a</text>
<text x="242.10" y="380.90" font-family="Liberation Serif" font-size="7.5" fill="#333" text-anchor="middle" font-weight="bold" stroke="#333" stroke-width="0.3">*</text>
<rect x="247.40" y="397.70" width="10.60" height="41.50" fill="#00B050"/>
<path d="M247.40 438.80V397.70H258.00V438.80" fill="none" stroke="#1a1a1a" stroke-width="0.8"/>
<path d="M252.70 392.30V402.80M251.10 392.30H254.30M251.10 402.80H254.30" stroke="#111" stroke-width="0.9" fill="none"/>
<text x="252.70" y="386.10" font-family="Liberation Serif" font-size="8.8" fill="#111" text-anchor="middle" stroke="#111" stroke-width="0.28">a</text>
<text x="252.70" y="376.20" font-family="Liberation Serif" font-size="7.5" fill="#333" text-anchor="middle" font-weight="bold" stroke="#333" stroke-width="0.3">*</text>
<rect x="258.00" y="399.70" width="10.60" height="39.50" fill="#F79646"/>
<path d="M258.00 438.80V399.70H268.60V438.80" fill="none" stroke="#1a1a1a" stroke-width="0.8"/>
<path d="M263.30 394.90V404.10M261.70 394.90H264.90M261.70 404.10H264.90" stroke="#111" stroke-width="0.9" fill="none"/>
<text x="263.30" y="388.40" font-family="Liberation Serif" font-size="8.8" fill="#111" text-anchor="middle" stroke="#111" stroke-width="0.28">a</text>
<rect x="268.60" y="398.20" width="10.60" height="41.00" fill="#6E2CA8"/>
<path d="M268.60 438.80V398.20H279.20V438.80" fill="none" stroke="#1a1a1a" stroke-width="0.8"/>
<path d="M273.90 393.80V402.80M272.30 393.80H275.50M272.30 402.80H275.50" stroke="#111" stroke-width="0.9" fill="none"/>
<text x="273.90" y="387.40" font-family="Liberation Serif" font-size="8.8" fill="#111" text-anchor="middle" stroke="#111" stroke-width="0.28">a</text>
<rect x="279.20" y="391.50" width="10.60" height="47.70" fill="#FFFF55"/>
<path d="M279.20 438.80V391.50H289.80V438.80" fill="none" stroke="#1a1a1a" stroke-width="0.8"/>
<path d="M284.50 387.00V395.90M282.90 387.00H286.10M282.90 395.90H286.10" stroke="#111" stroke-width="0.9" fill="none"/>
<text x="284.50" y="380.50" font-family="Liberation Serif" font-size="8.8" fill="#111" text-anchor="middle" stroke="#111" stroke-width="0.28">a</text>
<rect x="310.80" y="415.90" width="10.60" height="23.30" fill="#00B0F0"/>
<path d="M310.80 438.80V415.90H321.40V438.80" fill="none" stroke="#1a1a1a" stroke-width="0.8"/>
<path d="M316.10 413.60V418.20M314.50 413.60H317.70M314.50 418.20H317.70" stroke="#111" stroke-width="0.9" fill="none"/>
<text x="316.10" y="407.40" font-family="Liberation Serif" font-size="8.8" fill="#111" text-anchor="middle" stroke="#111" stroke-width="0.28">a</text>
<rect x="321.40" y="409.00" width="10.60" height="30.20" fill="#FF0000"/>
<path d="M321.40 438.80V409.00H332.00V438.80" fill="none" stroke="#1a1a1a" stroke-width="0.8"/>
<path d="M326.70 406.70V411.80M325.10 406.70H328.30M325.10 411.80H328.30" stroke="#111" stroke-width="0.9" fill="none"/>
<text x="326.70" y="399.70" font-family="Liberation Serif" font-size="8.8" fill="#111" text-anchor="middle" stroke="#111" stroke-width="0.28">a</text>
<text x="326.70" y="389.60" font-family="Liberation Serif" font-size="7.5" fill="#333" text-anchor="middle" font-weight="bold" stroke="#333" stroke-width="0.3">*</text>
<rect x="332.00" y="417.70" width="10.60" height="21.50" fill="#00B050"/>
<path d="M332.00 438.80V417.70H342.60V438.80" fill="none" stroke="#1a1a1a" stroke-width="0.8"/>
<path d="M337.30 416.70V418.70M335.70 416.70H338.90M335.70 418.70H338.90" stroke="#111" stroke-width="0.9" fill="none"/>
<text x="337.30" y="410.70" font-family="Liberation Serif" font-size="8.8" fill="#111" text-anchor="middle" stroke="#111" stroke-width="0.28">a</text>
<rect x="342.60" y="415.40" width="10.60" height="23.80" fill="#F79646"/>
<path d="M342.60 438.80V415.40H353.20V438.80" fill="none" stroke="#1a1a1a" stroke-width="0.8"/>
<path d="M347.90 414.40V416.40M346.30 414.40H349.50M346.30 416.40H349.50" stroke="#111" stroke-width="0.9" fill="none"/>
<text x="347.90" y="408.20" font-family="Liberation Serif" font-size="8.8" fill="#111" text-anchor="middle" stroke="#111" stroke-width="0.28">a</text>
<rect x="353.20" y="392.00" width="10.60" height="47.20" fill="#6E2CA8"/>
<path d="M353.20 438.80V392.00H363.80V438.80" fill="none" stroke="#1a1a1a" stroke-width="0.8"/>
<path d="M358.50 386.70V397.70M356.90 386.70H360.10M356.90 397.70H360.10" stroke="#111" stroke-width="0.9" fill="none"/>
<text x="358.50" y="379.10" font-family="Liberation Serif" font-size="8.8" fill="#111" text-anchor="middle" stroke="#111" stroke-width="0.28">b</text>
<text x="358.50" y="369.10" font-family="Liberation Serif" font-size="7.5" fill="#333" text-anchor="middle" font-weight="bold" stroke="#333" stroke-width="0.3">*</text>
<rect x="363.80" y="392.30" width="10.60" height="46.90" fill="#FFFF55"/>
<path d="M363.80 438.80V392.30H374.40V438.80" fill="none" stroke="#1a1a1a" stroke-width="0.8"/>
<path d="M369.10 387.70V396.90M367.50 387.70H370.70M367.50 396.90H370.70" stroke="#111" stroke-width="0.9" fill="none"/>
<text x="369.10" y="381.40" font-family="Liberation Serif" font-size="8.8" fill="#111" text-anchor="middle" stroke="#111" stroke-width="0.28">b</text>
<text transform="translate(83.60,458.30) scale(1,1.05)" font-family="Liberation Serif" font-size="11" fill="#000" text-anchor="middle" stroke="#000" stroke-width="0.25">WT</text>
<text transform="translate(170.80,458.60) scale(1,1.05)" font-family="Liberation Serif" font-size="11" fill="#000" text-anchor="middle" font-style="italic" stroke="#000" stroke-width="0.25">ahk2,3</text>
<text transform="translate(257.00,458.60) scale(1,1.05)" font-family="Liberation Serif" font-size="11" fill="#000" text-anchor="middle" font-style="italic" stroke="#000" stroke-width="0.25">arr1,10,12</text>
<text transform="translate(336.70,458.60) scale(1,1.05)" font-family="Liberation Serif" font-size="11" fill="#000" text-anchor="middle" font-style="italic" stroke="#000" stroke-width="0.25">ipt3,5,7</text>
<text transform="translate(17.8,219.4) rotate(-90)" font-family="Liberation Serif" font-weight="bold" font-size="14.3" fill="#000" text-anchor="middle">TRANSCRIPT LEVEL (relative units)</text>
<rect x="52.2" y="471.6" width="16.2" height="17" fill="#00B0F0"/>
<rect x="52.2" y="498.7" width="16" height="16.3" fill="#FF0000"/>
<rect x="52.2" y="526.1" width="16.7" height="17.5" fill="#00B050"/>
<rect x="201.1" y="471.8" width="17.9" height="15.9" fill="#F79646"/>
<rect x="201.0" y="497.4" width="18.2" height="19.3" fill="#6E2CA8"/>
<rect x="201.0" y="525.7" width="17.8" height="15.3" fill="#FFFF55"/>
<text transform="translate(71.80,481.60) scale(1,1.08)" font-family="Liberation Serif" font-size="11.2" fill="#000" stroke="#000" stroke-width="0.25">– moderate light MS</text>
<text transform="translate(71.80,510.10) scale(1,1.08)" font-family="Liberation Serif" font-size="12" fill="#000" stroke="#000" stroke-width="0.25">– HL stress MS</text>
<text transform="translate(72.00,535.60) scale(1,1.08)" font-family="Liberation Serif" font-size="11.2" fill="#000" stroke="#000" stroke-width="0.25">– moderate light MS + MT</text>
<text transform="translate(229.60,481.80) scale(1,1.08)" font-family="Liberation Serif" font-size="11.2" fill="#000" stroke="#000" stroke-width="0.25">– HL stress MS + MT</text>
<text transform="translate(229.30,508.60) scale(1,1.08)" font-family="Liberation Serif" font-size="11.2" fill="#000" stroke="#000" stroke-width="0.25">– moderate light MS + TZ</text>
<text transform="translate(234.20,535.80) scale(1,1.08)" font-family="Liberation Serif" font-size="11.2" fill="#000" stroke="#000" stroke-width="0.25">– HL stress MS + TZ</text>
</g>
</svg>
</div></body></html>
